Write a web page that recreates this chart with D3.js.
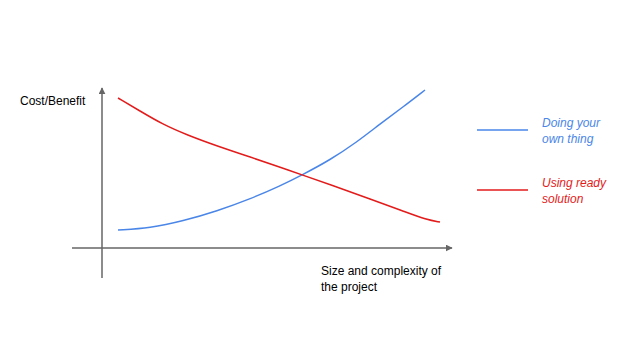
<!DOCTYPE html>
<html>
<head>
<meta charset="utf-8">
<script src="https://cdn.jsdelivr.net/npm/d3@7"></script>
<style>
  body { margin: 0; background: #fff; }
  text { font-family: "Liberation Sans", Arial, sans-serif; }
</style>
</head>
<body>
<svg id="chart"></svg>
<script>
// Curve values (arbitrary units)
const ownX = [16, 48, 81, 115, 148, 178, 200, 228, 255, 278, 301, 323];
const ownY = [18, 20, 27, 37, 49, 62, 73, 88, 106, 124, 141, 158];
const readyX = [16, 38, 60, 85, 115, 148, 178, 200, 235, 268, 301, 325, 338];
const readyY = [150, 137, 124, 113, 102, 91, 81, 73, 61, 49, 37, 28, 26];

const seriesNames = ["Doing your own thing", "Using ready solution"];
const legendLines = [["Doing your", "own thing"], ["Using ready", "solution"]];
const colors = ["#4a86e8", "#e31b1b"];

const width = 638;
const height = 359;

const svg = d3
  .select("#chart")
  .attr("width", width)
  .attr("height", height);

// Scales
const xScale = d3.scaleLinear().domain([0, 350]).range([102, 452]);
const yScale = d3.scaleLinear().domain([0, 160]).range([248, 88]);

// Arrow marker
svg
  .append("defs")
  .append("marker")
  .attr("id", "arrow")
  .attr("viewBox", "0 0 10 10")
  .attr("refX", 9)
  .attr("refY", 5)
  .attr("markerWidth", 7)
  .attr("markerHeight", 7)
  .attr("markerUnits", "userSpaceOnUse")
  .attr("orient", "auto")
  .append("path")
  .attr("d", "M0,0 L10,5 L0,10 z")
  .attr("fill", "#666");

// Axes (plain lines with arrowheads)
svg
  .append("line")
  .attr("x1", xScale(-30))
  .attr("x2", xScale(350))
  .attr("y1", yScale(0))
  .attr("y2", yScale(0))
  .attr("stroke", "#666")
  .attr("stroke-width", 1.5)
  .attr("marker-end", "url(#arrow)");

svg
  .append("line")
  .attr("x1", xScale(0))
  .attr("x2", xScale(0))
  .attr("y1", yScale(-30))
  .attr("y2", yScale(160))
  .attr("stroke", "#666")
  .attr("stroke-width", 1.5)
  .attr("marker-end", "url(#arrow)");

// Axis labels
svg
  .append("text")
  .attr("x", 20)
  .attr("y", 105)
  .attr("font-size", 12)
  .attr("fill", "#000")
  .text("Cost/Benefit");

svg
  .append("text")
  .attr("x", 321)
  .attr("y", 275)
  .attr("font-size", 12)
  .attr("fill", "#000")
  .selectAll("tspan")
  .data(["Size and complexity of", "the project"])
  .enter()
  .append("tspan")
  .attr("x", 321)
  .attr("dy", (d, i) => (i === 0 ? 0 : 16))
  .text((d) => d);

// Lines
const line = d3
  .line()
  .x((d) => xScale(d[0]))
  .y((d) => yScale(d[1]))
  .curve(d3.curveBasis);

const series = [
  d3.zip(ownX, ownY),
  d3.zip(readyX, readyY),
];

svg
  .selectAll(".series")
  .data(series)
  .enter()
  .append("path")
  .attr("class", "series")
  .attr("d", line)
  .attr("fill", "none")
  .attr("stroke", (d, i) => colors[i])
  .attr("stroke-width", 1.5);

// Legend
const legend = svg
  .selectAll(".legend")
  .data(seriesNames)
  .enter()
  .append("g")
  .attr("class", "legend")
  .attr("transform", (d, i) => `translate(477, ${130 + i * 60})`);

legend
  .append("line")
  .attr("x1", 0)
  .attr("x2", 51)
  .attr("y1", 0)
  .attr("y2", 0)
  .attr("stroke", (d, i) => colors[i])
  .attr("stroke-width", 1.5);

legend
  .append("text")
  .attr("x", 65)
  .attr("y", -3)
  .attr("font-size", 12)
  .attr("font-style", "italic")
  .attr("fill", (d, i) => colors[i])
  .selectAll("tspan")
  .data((d, i) => legendLines[i])
  .enter()
  .append("tspan")
  .attr("x", 65)
  .attr("dy", (d, i) => (i === 0 ? 0 : 16))
  .text((d) => d);
</script>
</body>
</html>
